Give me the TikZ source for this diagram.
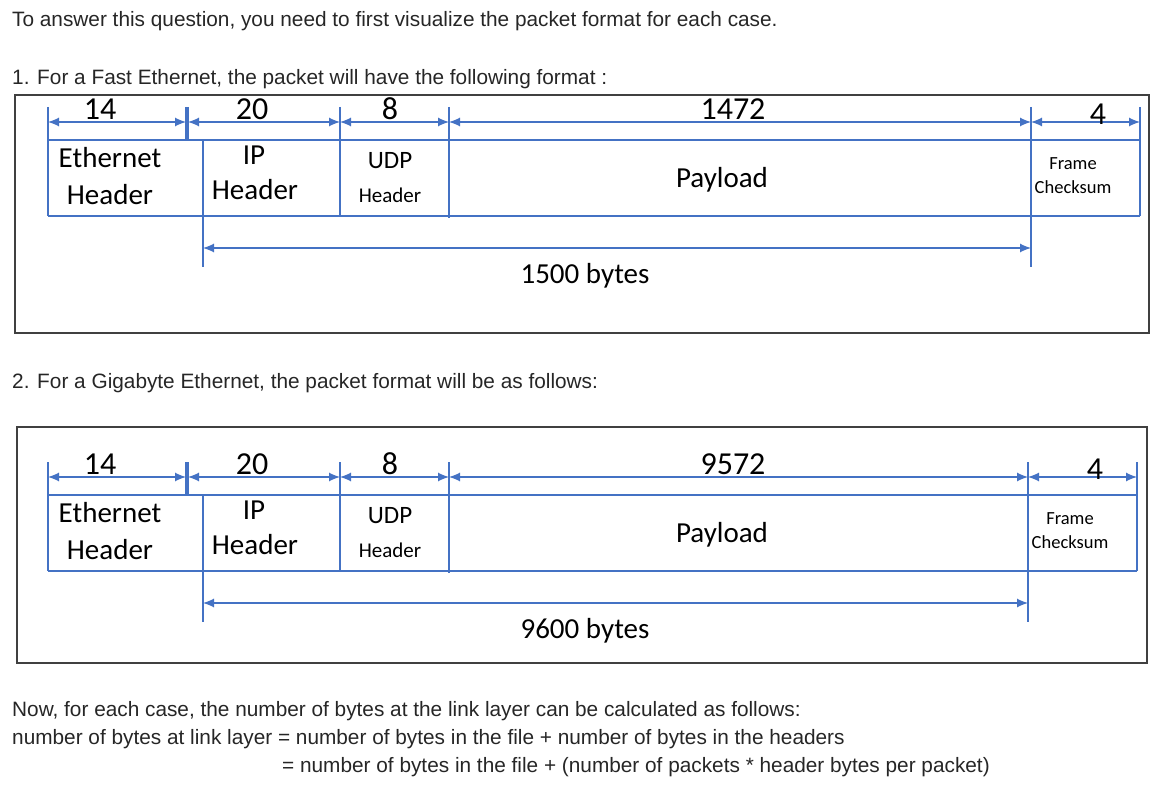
\documentclass[tikz,border=0pt]{standalone}
\usepackage{fontspec}
\setmainfont{Liberation Sans}
\newfontfamily\calfont{Carlito}
\usetikzlibrary{arrows.meta}
\definecolor{bl}{HTML}{4472C4}
\begin{document}
\begin{tikzpicture}[x=1pt,y=-1pt,
  prose/.style={anchor=west,font=\fontsize{20.8}{24}\selectfont,text=black!85,inner sep=0},
  big/.style={font=\calfont\fontsize{32}{36}\selectfont,inner sep=0},
  mid/.style={font=\calfont\fontsize{29}{32}\selectfont,inner sep=0},
  sm/.style={font=\calfont\fontsize{25}{28}\selectfont,inner sep=0},
  tiny/.style={font=\calfont\fontsize{21}{24}\selectfont,inner sep=0},
  fc/.style={font=\calfont\fontsize{18.5}{20}\selectfont,inner sep=0},
  ln/.style={bl,line width=1.2pt},
  dim/.style={bl,line width=1.2pt,{Latex[length=11pt,width=9pt]}-{Latex[length=11pt,width=9pt]}},
  frame/.style={draw=black!75,line width=1.3pt}]
\useasboundingbox (0,0) rectangle (1160,786);
\node[prose] (t1) at (12,21) {To answer this question, you need to first visualize the packet format for each case.};
\node[prose] (t2) at (12,79) {1. For a Fast Ethernet, the packet will have the following format :};
\node[prose] (t3) at (12,383) {2. For a Gigabyte Ethernet, the packet format will be as follows:};
\node[prose] (t4) at (12,711) {Now, for each case, the number of bytes at the link layer can be calculated as follows:};
\node[prose] (t5) at (12,739) {number of bytes at link layer = number of bytes in the file + number of bytes in the headers};
\node[prose] (t6) at (282,767) {= number of bytes in the file + (number of packets * header bytes per packet)};
\draw[frame] (15,95) rectangle (1149,333);
\draw[frame] (17,427) rectangle (1147,663);

\foreach \oy/\pl/\tot/\ch/\nm in {0/1472/1500/1031/a, 355/9572/9600/1028/b}{
\begin{scope}[yshift=-\oy pt]
\draw[ln] (48,107) -- (48,216);
\draw[ln] (186,107) -- (186,140);
\draw[ln] (188,107) -- (188,140);
\draw[ln] (203,140) -- (203,267);
\draw[ln] (340,107) -- (340,216);
\draw[ln] (449,107) -- (449,218);
\draw[ln] (\ch,107) -- (\ch,267);
\draw[ln] (\ch+109,107) -- (\ch+109,216);
\draw[ln] (48,140) -- (\ch+109,140);
\draw[ln] (48,216) -- (\ch+109,216);
\draw[dim] (48,122) -- (186,122);
\draw[dim] (188,122) -- (340,122);
\draw[dim] (340,122) -- (449,122);
\draw[dim] (449,122) -- (\ch,122);
\draw[dim] (\ch,122) -- (\ch+109,122);
\draw[dim] (203,248) -- (\ch,248);
\node[big] (n14\nm) at (100,109) {14};
\node[big] (n20\nm) at (252,109) {20};
\node[big] (n8\nm) at (390,109) {8};
\node[big] (np\nm) at (733,109) {\pl};
\node[big] (n4\nm) at (\ch+67,114) {4};
\node[mid] (e1\nm) at (110,158) {Ethernet};
\node[mid] (e2\nm) at (110,195) {Header};
\node[mid] (i1\nm) at (254,155) {IP};
\node[mid] (i2\nm) at (255,190) {Header};
\node[sm] (u1\nm) at (390,161) {UDP};
\node[tiny] (u2\nm) at (390,195) {Header};
\node[mid] (pay\nm) at (722,180) {Payload};
\node[fc] (f1\nm) at (\ch+42,164) {Frame};
\node[fc] (f2\nm) at (\ch+42,187) {Checksum};
\node[mid] (tot\nm) at (585,276) {\tot\ bytes};
\end{scope}}
\end{tikzpicture}
\end{document}
